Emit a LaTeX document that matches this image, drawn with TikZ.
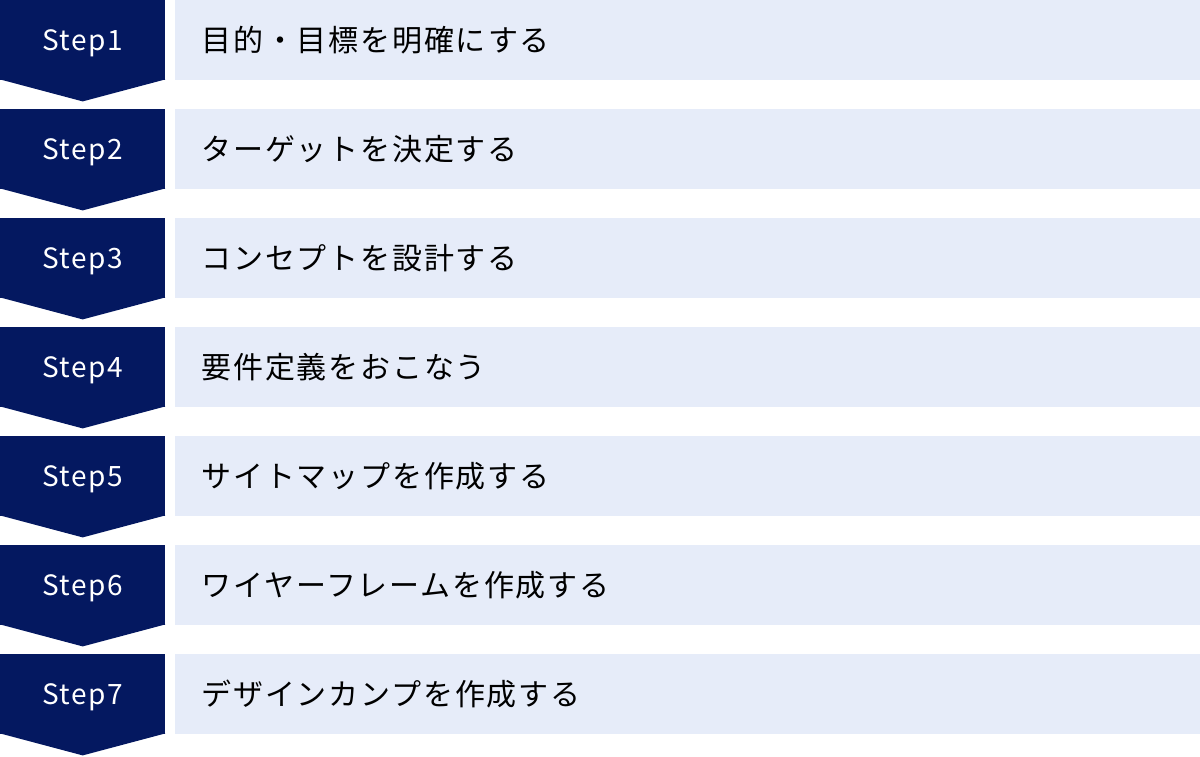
\documentclass[tikz,border=0pt]{standalone}
\usepackage{fontspec}
\setmainfont{Noto Sans CJK JP}
\newfontfamily\stepfont[LetterSpace=6]{Noto Sans CJK JP}
\newfontfamily\taskfont[LetterSpace=6]{Noto Sans CJK JP}
\usetikzlibrary{positioning}
\definecolor{navy}{RGB}{4,24,96}
\definecolor{paleblue}{RGB}{230,236,249}
\tikzset{
  stepbox/.style={rectangle,fill=navy,anchor=north west,
    minimum width=165pt,minimum height=80pt,inner sep=0pt},
  steplabel/.style={text=white,inner sep=0pt,
    font=\stepfont\fontsize{28pt}{30pt}\selectfont},
  taskbox/.style={rectangle,fill=paleblue,text=black,text width=972pt,
    inner xsep=27pt,inner ysep=0pt,minimum height=80pt,align=left,
    font=\taskfont\fontsize{30pt}{32pt}\selectfont}
}
\begin{document}
\begin{tikzpicture}
		\useasboundingbox (0,0) rectangle (1200pt,-756pt);
		\foreach \i/\txt in {1/目的・目標を明確にする,2/ターゲットを決定する,
		  3/コンセプトを設計する,4/要件定義をおこなう,5/サイトマップを作成する,
		  6/ワイヤーフレームを作成する,7/デザインカンプを作成する}{
		  \node[stepbox] (s\i) at (0pt,{-(\i-1)*109pt}) {};
		  % arrow point under the step box
		  \fill[navy] ([yshift=1pt]s\i.south west) -- ([yshift=1pt]s\i.south east)
		    -- ([yshift=-21pt]s\i.south) -- cycle;
		  \node[steplabel] (l\i) at ([yshift=-3pt]s\i.center) {Step\i};
		  \node[taskbox,right=9pt of s\i] (t\i) {\txt};
		}
\end{tikzpicture}
\end{document}
